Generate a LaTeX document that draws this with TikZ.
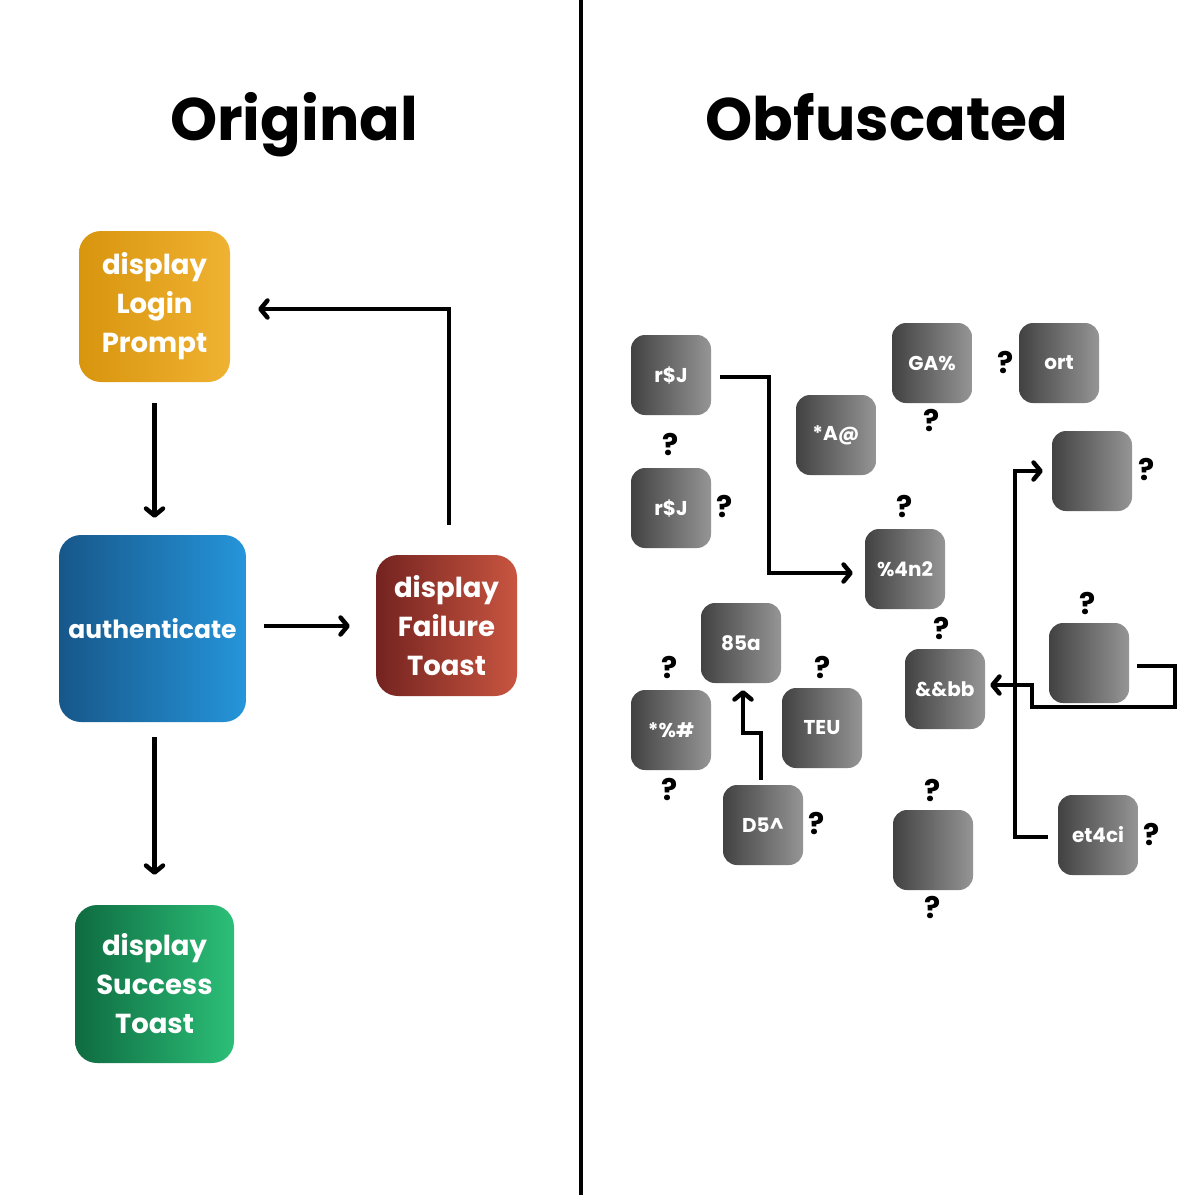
\documentclass[tikz,border=0pt]{standalone}
\usepackage{fontspec}
\setmainfont{Poppins}
\usetikzlibrary{arrows.meta}
\definecolor{orA}{HTML}{D8950E}\definecolor{orB}{HTML}{F0B232}
\definecolor{blA}{HTML}{17578A}\definecolor{blB}{HTML}{2595DA}
\definecolor{rdA}{HTML}{742320}\definecolor{rdB}{HTML}{C85540}
\definecolor{gnA}{HTML}{0E6B40}\definecolor{gnB}{HTML}{2CBF78}
\definecolor{gyA}{HTML}{424242}\definecolor{gyB}{HTML}{959595}
\tikzset{
  bigbox/.style={rounded corners=22pt, inner sep=0pt, text=white, align=center,
    font=\fontsize{27.5}{39}\selectfont\bfseries},
  gbox/.style={rounded corners=14pt, inner sep=0pt, minimum width=80pt, minimum height=80pt,
    left color=gyA, right color=gyB, text=white, font=\fontsize{20}{22}\selectfont\bfseries},
  qmark/.style={font=\fontsize{30}{30}\selectfont\bfseries, inner sep=0pt},
  ttl/.style={font=\fontsize{60}{60}\selectfont\bfseries, anchor=base, inner sep=0pt},
  conn/.style={line width=4.5pt, -{Straight Barb[length=7pt,width=17pt,round]}}
}
\begin{document}
\begin{tikzpicture}[x=1pt,y=-1pt]
\useasboundingbox (0,0) rectangle (1200,1200);
\fill[white] (0,0) rectangle (1200,1200);
\coordinate (dtop) at (581,0);
\coordinate (dbot) at (581,1195);
\draw[line width=4pt] (dtop) -- (dbot);
\node[ttl] (t1) at (294,140) {Original};
\node[ttl] (t2) at (887,140) {Obfuscated};
% left side
\node[bigbox, minimum width=151pt, minimum height=151pt, left color=orA, right color=orB] (login) at (154.5,306.5) {display\\Login\\Prompt};
\node[bigbox, minimum width=187pt, minimum height=187pt, left color=blA, right color=blB, font=\fontsize{25}{39}\selectfont\bfseries] (auth) at (152.5,628.5) {authenticate};
\node[bigbox, minimum width=141pt, minimum height=141pt, left color=rdA, right color=rdB] (fail) at (446.5,625.5) {display\\Failure\\Toast};
\node[bigbox, minimum width=159pt, minimum height=158pt, left color=gnA, right color=gnB] (succ) at (154.5,984) {display\\Success\\Toast};
\draw[conn, shorten <=21pt, shorten >=17pt] (login.south) -- (login.south |- auth.north);
\draw[conn, shorten <=18pt, shorten >=26pt] ([yshift=2.5pt]auth.east) -- ([yshift=-0.5pt]fail.west);
\draw[conn, shorten <=30pt, shorten >=28pt] ([xshift=2.5pt]fail.north) |- ([yshift=-2.5pt]login.east);
\draw[conn, shorten <=15pt, shorten >=30pt] (auth.south -| login.south) -- (succ.north);
% right side
\node[gbox] (r1) at (671,375) {r\$J};
\node[gbox] (r2) at (671,508) {r\$J};
\node[gbox] (ax) at (836,435) {*A@};
\node[gbox] (ga) at (932,363) {GA\%};
\node[gbox] (ort) at (1059,363) {ort};
\node[gbox] (b6) at (1092,471) {};
\node[gbox] (p4) at (905,569) {\%4n2};
\node[gbox] (a85) at (741,643) {85a};
\node[gbox] (ph) at (671,730) {*\%\#};
\node[gbox] (teu) at (822,728) {TEU};
\node[gbox] (bb) at (945,689) {\&\&bb};
\node[gbox] (b12) at (1089,663) {};
\node[gbox] (d5) at (763,825) {D5\textasciicircum};
\node[gbox] (b14) at (933,850) {};
\node[gbox] (et) at (1098,835) {et4ci};
% question marks
\node[qmark] (q1) at (671,444) {?};
\node[qmark] (q2) at (725,506) {?};
\node[qmark] (q3) at (932,420) {?};
\node[qmark] (q4) at (1006,362) {?};
\node[qmark] (q5) at (1147,469) {?};
\node[qmark] (q6) at (905,506) {?};
\node[qmark] (q7) at (670,667) {?};
\node[qmark] (q8) at (670,789) {?};
\node[qmark] (q9) at (823,667) {?};
\node[qmark] (q10) at (942,628) {?};
\node[qmark] (q11) at (1088,603) {?};
\node[qmark] (q12) at (817,823) {?};
\node[qmark] (q13) at (933,790) {?};
\node[qmark] (q14) at (933,907) {?};
\node[qmark] (q15) at (1152,834) {?};
% right connectors
\draw[conn, shorten <=9pt, shorten >=12pt] ([yshift=-2pt]r1.east) -- ++(58,0) |- ([yshift=-4pt]p4.west);
\draw[conn, shorten <=5pt, shorten >=7pt] ([xshift=-2pt]d5.north) -- ++(0,-52) -| ([xshift=2pt]a85.south);
\draw[conn, shorten <=10pt, shorten >=9pt] ([yshift=-2pt]et.west) -- ++(-43,0) |- (b6.west);
\draw[conn, shorten <=8pt, shorten >=5pt] ([yshift=-3pt]b12.east) -- ++(46,0) -- ++(0,41) -- ++(-143,0) |- ([yshift=4pt]bb.east);
\end{tikzpicture}
\end{document}
